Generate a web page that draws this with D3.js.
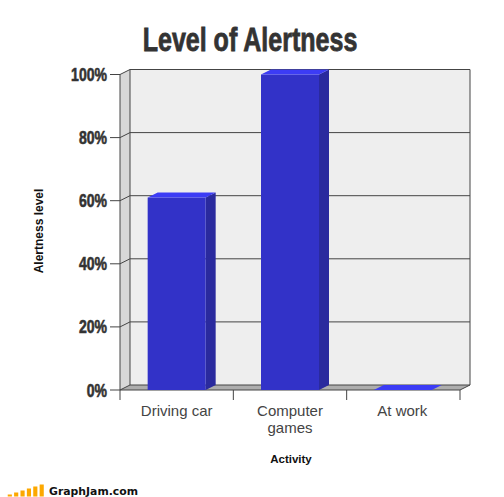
<!DOCTYPE html>
<html><head><meta charset="utf-8">
<script src="https://cdnjs.cloudflare.com/ajax/libs/d3/7.8.5/d3.min.js"></script>
<style>html,body{margin:0;padding:0;background:#fff}svg{display:block}</style></head>
<body><svg id="c" width="504" height="497"></svg>
<script>
const categories = [["Driving car"],["Computer","games"],["At work"]];
const values = [61, 100, 0];
const yTicks = [0,20,40,60,80,100];
const logoBars = [2,4,6,8,10,12];
const titleText = "Level of Alertness";
const xTitle = "Activity", yTitle = "Alertness level", logoText = "GraphJam.com";

const svg = d3.select("#c");
const dx = 10, dy = -5, barW = 58;
const y = d3.scaleLinear().domain([0,100]).range([390,74.5]);
const x = d3.scaleBand().domain(d3.range(categories.length)).range([120,460]);
const L=120,R=460,T=y(100),B=y(0);
const line="#444";
const poly=(pts,fill)=>svg.append("polygon").attr("points",pts.map(p=>p.join(",")).join(" ")).attr("fill",fill);

poly([[L+dx,T+dy],[R+dx,T+dy],[R+dx,B+dy],[L+dx,B+dy]],"#eeeeee");
poly([[L,T],[L+dx,T+dy],[L+dx,B+dy],[L,B]],"#d8d8d8");
poly([[L,B],[L+dx,B+dy],[R+dx,B+dy],[R,B]],"#adadad");

yTicks.forEach(t=>{
  const p=y(t);
  svg.append("path").attr("d",`M${L},${p}L${L+dx},${p+dy}H${R+dx}`).attr("fill","none").attr("stroke",line).attr("stroke-width",1);
});
svg.append("path").attr("d",`M${L+dx},${T+dy}V${B+dy}M${R+dx},${T+dy}V${B+dy}L${R},${B}H${L}M${L},${T}V${B}`).attr("fill","none").attr("stroke",line).attr("stroke-width",1);

values.forEach((v,i)=>{
  const x0=x(i)+(x.bandwidth()-barW)/2+(i==2?-0.5:0), x1=x0+barW, yt=y(v);
  if(v>0){
    poly([[x1,yt],[x1+dx,yt+dy],[x1+dx,B+dy],[x1,B]],"#2a2a9e");
    poly([[x0,yt],[x1,yt],[x1,B],[x0,B]],"#3232c8");
  }
  poly([[x0,yt],[x0+dx,yt+dy],[x1+dx,yt+dy],[x1,yt]],"#3c3cf5");
});

const narrow="'Liberation Sans',Arial,sans-serif";
yTicks.forEach(t=>{
  const p=y(t);
  svg.append("line").attr("x1",110).attr("x2",L).attr("y1",p).attr("y2",p).attr("stroke",line);
  svg.append("text").attr("transform",`translate(107,${p+6.5}) scale(0.78,1)`).attr("text-anchor","end")
    .attr("font-family",narrow).attr("font-weight","bold").attr("font-size",18)
    .attr("fill","#333").attr("stroke","#333").attr("stroke-width",0.6).text(t+"%");
});
d3.range(categories.length+1).forEach(i=>{
  const p=i<categories.length?x(i):R;
  svg.append("line").attr("x1",p).attr("x2",p).attr("y1",B).attr("y2",B+10).attr("stroke",line);
});
categories.forEach((c,i)=>{
  const t=svg.append("text").attr("text-anchor","middle").attr("font-family",narrow).attr("font-size",15).attr("fill","#444");
  c.forEach((s,j)=>t.append("tspan").attr("x",x(i)+x.bandwidth()/2-(i==2?1:0)).attr("y",416+j*17).text(s));
});
svg.append("text").attr("x",291).attr("y",463).attr("text-anchor","middle").attr("font-family",narrow).attr("font-weight","bold").attr("font-size",11.5).attr("fill","#111").text(xTitle);
svg.append("text").attr("transform","translate(43,231) rotate(-90)").attr("text-anchor","middle").attr("font-family",narrow).attr("font-weight","bold").attr("font-size",12).attr("fill","#111").text(yTitle);
svg.append("text").attr("transform","translate(250,51) scale(0.77,1)").attr("text-anchor","middle").attr("font-family",narrow).attr("font-weight","bold").attr("font-size",32.5).attr("fill","#333").attr("stroke","#333").attr("stroke-width",0.8).text(titleText);

const lx=d3.scaleBand().domain(d3.range(logoBars.length)).range([5.5,46]).padding(0.35);
logoBars.forEach((h,i)=>svg.append("rect").attr("x",lx(i)).attr("width",lx.bandwidth()).attr("y",496.5-h).attr("height",h).attr("fill","#fca800"));
svg.append("text").attr("x",49).attr("y",494.5).attr("font-family","'DejaVu Sans',sans-serif").attr("font-weight","bold").attr("font-size",10.5).attr("fill","#111").attr("textLength",89).attr("lengthAdjust","spacingAndGlyphs").text(logoText);
</script></body></html>
